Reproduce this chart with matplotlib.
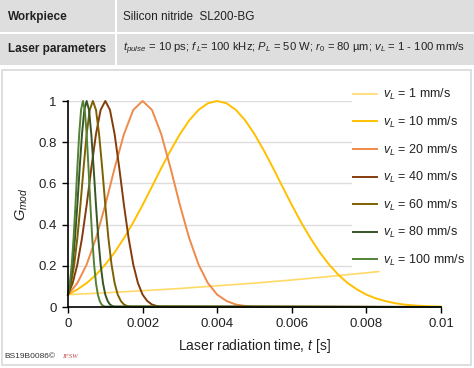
import matplotlib
matplotlib.use("Agg")
import matplotlib.pyplot as plt
from matplotlib.patches import Rectangle

plt.rcParams['font.family'] = ['Liberation Sans', 'DejaVu Sans']
plt.rcParams['mathtext.fontset'] = 'custom'
plt.rcParams['mathtext.rm'] = 'Liberation Sans'
plt.rcParams['mathtext.it'] = 'Liberation Sans:italic'

# --- data ---
labels = ['1', '10', '20', '40', '60', '80', '100']   # v_L in mm/s
colors = ['#FFD966', '#FFC000', '#EE8A4A', '#843C0C', '#7F6000', '#375623', '#548235']
widths = [1.2, 1.4, 1.4, 1.4, 1.4, 1.4, 1.4]

t_1 = [0, 0.001, 0.002, 0.003, 0.004, 0.005, 0.006, 0.007, 0.008, 0.00833]
g_1 = [0.060, 0.069, 0.079, 0.090, 0.103, 0.116, 0.131, 0.148, 0.166, 0.172]

t_10 = [0, 0.00025, 0.0005, 0.00075, 0.001, 0.00125, 0.0015, 0.00175, 0.002,
        0.00225, 0.0025, 0.00275, 0.003, 0.00325, 0.0035, 0.00375, 0.004,
        0.00425, 0.0045, 0.00475, 0.005, 0.00525, 0.0055, 0.00575, 0.006,
        0.00625, 0.0065, 0.00675, 0.007, 0.00725, 0.0075, 0.00775, 0.008,
        0.00825, 0.0085, 0.00875, 0.009, 0.00925, 0.0095, 0.00975, 0.01]
g_10 = [0.060, 0.085, 0.116, 0.156, 0.206, 0.265, 0.334, 0.411, 0.495,
        0.584, 0.674, 0.760, 0.839, 0.906, 0.957, 0.989, 1.000,
        0.989, 0.957, 0.906, 0.839, 0.760, 0.674, 0.584, 0.495,
        0.411, 0.334, 0.265, 0.206, 0.156, 0.116, 0.085, 0.060,
        0.042, 0.029, 0.019, 0.012, 0.008, 0.005, 0.003, 0.002]

t_20 = [0, 0.00025, 0.0005, 0.00075, 0.001, 0.00125, 0.0015, 0.00175, 0.002,
        0.00225, 0.0025, 0.00275, 0.003, 0.00325, 0.0035, 0.00375, 0.004,
        0.00425, 0.0045, 0.00475, 0.005, 0.01]
g_20 = [0.060, 0.116, 0.206, 0.334, 0.495, 0.674, 0.839, 0.957, 1.000,
        0.957, 0.839, 0.674, 0.495, 0.334, 0.206, 0.116, 0.060,
        0.029, 0.012, 0.005, 0.002, 0.0]

t_40 = [0, 0.000125, 0.00025, 0.000375, 0.0005, 0.000625, 0.00075, 0.000875, 0.001,
        0.001125, 0.00125, 0.001375, 0.0015, 0.001625, 0.00175, 0.001875, 0.002,
        0.002125, 0.00225, 0.002375, 0.0025, 0.01]
g_40 = [0.060, 0.116, 0.206, 0.334, 0.495, 0.674, 0.839, 0.957, 1.000,
        0.957, 0.839, 0.674, 0.495, 0.334, 0.206, 0.116, 0.060,
        0.029, 0.012, 0.005, 0.002, 0.0]

t_60 = [0, 0.0000833, 0.000167, 0.00025, 0.000333, 0.000417, 0.0005, 0.000583, 0.000667,
        0.00075, 0.000833, 0.000917, 0.001, 0.001083, 0.001167, 0.00125, 0.001333,
        0.001417, 0.0015, 0.001583, 0.001667, 0.01]
g_60 = [0.060, 0.116, 0.206, 0.334, 0.495, 0.674, 0.839, 0.957, 1.000,
        0.957, 0.839, 0.674, 0.495, 0.334, 0.206, 0.116, 0.060,
        0.029, 0.012, 0.005, 0.002, 0.0]

t_80 = [0, 0.0000625, 0.000125, 0.0001875, 0.00025, 0.0003125, 0.000375, 0.0004375, 0.0005,
        0.0005625, 0.000625, 0.0006875, 0.00075, 0.0008125, 0.000875, 0.0009375, 0.001,
        0.0010625, 0.001125, 0.0011875, 0.00125, 0.01]
g_80 = [0.060, 0.116, 0.206, 0.334, 0.495, 0.674, 0.839, 0.957, 1.000,
        0.957, 0.839, 0.674, 0.495, 0.334, 0.206, 0.116, 0.060,
        0.029, 0.012, 0.005, 0.002, 0.0]

t_100 = [0, 0.00005, 0.0001, 0.00015, 0.0002, 0.00025, 0.0003, 0.00035, 0.0004,
         0.00045, 0.0005, 0.00055, 0.0006, 0.00065, 0.0007, 0.00075, 0.0008,
         0.00085, 0.0009, 0.00095, 0.001, 0.01]
g_100 = [0.060, 0.116, 0.206, 0.334, 0.495, 0.674, 0.839, 0.957, 1.000,
         0.957, 0.839, 0.674, 0.495, 0.334, 0.206, 0.116, 0.060,
         0.029, 0.012, 0.005, 0.002, 0.0]

series_t = [t_1, t_10, t_20, t_40, t_60, t_80, t_100]
series_g = [g_1, g_10, g_20, g_40, g_60, g_80, g_100]

xticks = [0, 0.002, 0.004, 0.006, 0.008, 0.01]
xticklabels = ['0', '0.002', '0.004', '0.006', '0.008', '0.01']
yticks = [0, 0.2, 0.4, 0.6, 0.8, 1]
yticklabels = ['0', '0.2', '0.4', '0.6', '0.8', '1']

W, H = 474, 368
fig = plt.figure(figsize=(W / 100, H / 100), dpi=100)
fig.patch.set_facecolor('white')

# header table
grey = '#DEDEDE'
def box(x, y, w, h, **kw):
    # rectangle in pixel coords (from top-left)
    fig.patches.append(Rectangle((x / W, 1 - (y + h) / H), w / W, h / H,
                                 transform=fig.transFigure, zorder=-5, **kw))

box(0, 0, W, 32, facecolor=grey, edgecolor='none')
box(0, 34, W, 31, facecolor=grey, edgecolor='none')
box(115, 0, 2, 65, facecolor='white', edgecolor='none')
fig.text(8 / W, 1 - 17 / H, 'Workpiece', fontsize=8.5, fontweight='bold', va='center',
         color='#222222')
fig.text(8 / W, 1 - 49 / H, 'Laser parameters', fontsize=8.5, fontweight='bold', va='center',
         color='#222222')
fig.text(123 / W, 1 - 17 / H, 'Silicon nitride  SL200-BG', fontsize=8.5, va='center',
         color='#222222')
fig.text(123 / W, 1 - 49 / H,
         r'$t_{pulse}$ = 10 ps; $f_{\,L}$= 100 kHz; $P_L$ = 50 W; $r_0$ = 80 µm; $v_L$ = 1 - 100 mm/s',
         fontsize=8.1, va='center', color='#222222')

# chart frame
box(2, 70, 469, 295, facecolor='white', edgecolor='#D9D9D9', linewidth=1.2)

ax = fig.add_axes([68 / W, 1 - 307 / H, 373 / W, 206 / H])
ax.set_facecolor('none')
for tt, gg, lab, c, lw in zip(series_t, series_g, labels, colors, widths):
    ax.plot(tt, gg, color=c, linewidth=lw, label='$v_L$ = ' + lab + ' mm/s', clip_on=False)

ax.set_xlim(0, 0.01)
ax.set_ylim(0, 1)
ax.set_xticks(xticks)
ax.set_xticklabels(xticklabels)
ax.set_yticks(yticks)
ax.set_yticklabels(yticklabels)
ax.tick_params(labelsize=9.5, length=4, width=1, color='black', pad=4, labelcolor='#222222')
ax.grid(axis='y', color='#DDDDDD', linewidth=1)
ax.set_axisbelow(True)
for s in ['top', 'right']:
    ax.spines[s].set_visible(False)
for s in ['left', 'bottom']:
    ax.spines[s].set_linewidth(1.2)
ax.set_xlabel('Laser radiation time, $t$ [s]', fontsize=10, labelpad=5, color='#222222')
ax.set_ylabel('$G_{mod}$', fontsize=10.5, labelpad=6, color='#222222')

leg = fig.legend(loc='upper left', bbox_to_anchor=(352 / W, 1 - 86 / H), frameon=True,
                 fontsize=9, handlelength=1.9, labelspacing=1.0, borderpad=0.1,
                 handletextpad=0.5, borderaxespad=0)
leg.get_frame().set_facecolor('white')
leg.get_frame().set_edgecolor('white')
leg.get_frame().set_alpha(1)
for txt in leg.get_texts():
    txt.set_color('#222222')

fig.text(4 / W, 1 - 357 / H, 'BS19B0086©', fontsize=6, va='center', color='#333333')
fig.text(62 / W, 1 - 357 / H, 'IFSW', fontsize=5, va='center', color='#C0504D',
         style='italic', family=['Liberation Serif'])

fig.savefig('out.png', dpi=100, facecolor='white')
